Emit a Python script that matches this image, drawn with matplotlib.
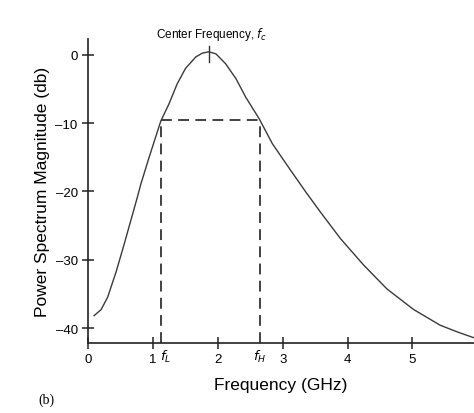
import matplotlib.pyplot as plt

plt.rcParams['font.family'] = ['Liberation Sans', 'DejaVu Sans']

# curve (GHz, dB)
freq = [0.09, 0.20, 0.30, 0.43, 0.55, 0.68, 0.76, 0.81, 0.94, 1.12, 1.25,
        1.37, 1.50, 1.66, 1.76, 1.86, 1.97, 2.12, 2.28, 2.43, 2.64, 2.84,
        3.10, 3.35, 3.58, 3.89, 4.25, 4.61, 5.02, 5.43, 5.70, 5.94]
power = [-38.2, -37.3, -35.5, -31.8, -27.9, -23.5, -20.8, -19.0, -15.0, -9.7, -7.1,
         -4.3, -2.0, -0.3, 0.25, 0.45, 0.15, -1.3, -3.5, -6.2, -9.4, -13.0,
         -16.6, -20.0, -23.0, -26.9, -30.8, -34.3, -37.3, -39.6, -40.6, -41.4]

f_low = 1.12
f_high = 2.65
f_center = 1.86
level = -9.5

x_ticks = [0, 1, 2, 3, 4, 5]
y_ticks = [0, -10, -20, -30, -40]
y_labels = ['0', '\u201310', '\u201320', '\u201330', '\u201340']

fig = plt.figure(figsize=(4.74, 4.14), dpi=100)
ax = fig.add_axes([0.186, 0.169, 0.814, 0.734])

ax.plot(freq, power, color='#3a3a3a', lw=1.0, solid_joinstyle='round')

# -10 dB band
dash = dict(color='#333333', lw=1.3, dashes=(6, 3.5))
ax.plot([f_low, f_high], [level, level], **dash)
ax.plot([f_low, f_low], [-42.2, level], **dash)
ax.plot([f_high, f_high], [-42.2, level], **dash)

# centre frequency marker
ax.plot([f_center, f_center], [-1.0, 1.3], color='#333333', lw=1.0)
ax.text(f_center + 0.05, 1.9, r'Center Frequency, $f_c$', ha='center', va='bottom',
        fontsize=8.5)

ax.set_xlim(0, 5.95)
ax.set_ylim(-42.2, 2.3)
ax.spines['top'].set_visible(False)
ax.spines['right'].set_visible(False)
for s in ['left', 'bottom']:
    ax.spines[s].set_linewidth(1.2)
    ax.spines[s].set_color('#222222')

ax.set_xticks(x_ticks)
ax.set_xticklabels([str(v) for v in x_ticks])
ax.set_yticks(y_ticks)
ax.set_yticklabels(y_labels)
ax.tick_params(direction='inout', length=8, width=1.1, labelsize=9.5, color='#222222')

ax.set_xticks([f_low + 0.07, f_high], minor=True)
ax.set_xticklabels([r'$f_L$', r'$f_H$'], minor=True)
ax.tick_params(axis='x', which='minor', length=0, labelsize=9.5)

ax.set_xlabel('Frequency (GHz)', fontsize=12.5, labelpad=8)
ax.set_ylabel('Power Spectrum Magnitude (db)', fontsize=12.5, labelpad=4)

fig.text(0.082, 0.025, '(b)', family='Liberation Serif', fontsize=10)

fig.savefig('out.png', dpi=100)
